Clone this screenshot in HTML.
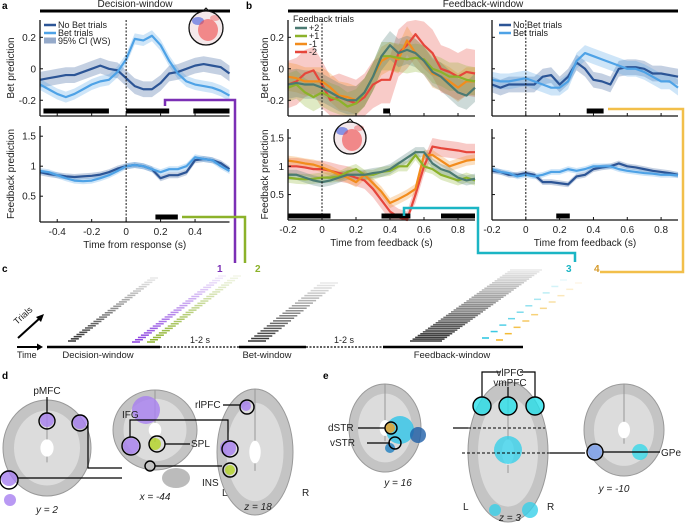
<!DOCTYPE html>
<html><head><meta charset="utf-8"><style>
body{margin:0;background:#fff;}
svg{display:block;font-family:"Liberation Sans",Arial,sans-serif;}
</style></head><body>
<svg id="fig" width="685" height="524" viewBox="0 0 685 524" xmlns="http://www.w3.org/2000/svg">
<g id="root"></g>
</svg>
<script>
// ---- data ----
const tA = [-0.5,-0.45,-0.4,-0.35,-0.3,-0.25,-0.2,-0.15,-0.1,-0.05,0,0.05,0.1,0.15,0.2,0.25,0.3,0.35,0.4,0.45,0.5,0.55,0.6];
const tB = [-0.2,-0.15,-0.1,-0.05,0,0.05,0.1,0.15,0.2,0.25,0.3,0.35,0.4,0.45,0.5,0.55,0.6,0.65,0.7,0.75,0.8,0.85,0.9];
const aTopNoBet = [-0.07,-0.06,-0.05,-0.04,-0.04,-0.02,0.0,0.02,0.0,-0.01,-0.06,-0.11,-0.13,-0.13,-0.09,-0.03,-0.02,0.0,0.02,0.03,0.02,0.01,-0.03];
const aTopBet = [-0.1,-0.13,-0.16,-0.18,-0.16,-0.13,-0.1,-0.08,-0.07,-0.02,0.06,0.19,0.18,0.21,0.15,0.05,-0.03,-0.08,-0.1,-0.11,-0.12,-0.14,-0.17];
const aBotNoBet = [0.9,0.87,0.85,0.83,0.82,0.83,0.84,0.86,0.9,0.96,1.0,1.02,1.0,0.95,0.8,0.85,0.85,0.9,1.1,1.12,1.1,1.05,0.95];
const aBotBet = [0.92,0.9,0.85,0.8,0.76,0.75,0.76,0.8,0.85,0.92,1.0,1.02,1.0,0.95,0.9,0.95,0.95,1.0,1.15,1.12,1.1,1.0,0.92];
const bTopP2 = [-0.1,-0.09,-0.1,-0.1,-0.12,-0.15,-0.18,-0.2,-0.2,-0.15,-0.05,0.08,0.15,0.1,0.12,0.1,0.05,-0.02,-0.05,-0.1,-0.15,-0.17,-0.12];
const bTopP1 = [-0.12,-0.1,-0.15,-0.18,-0.15,-0.18,-0.2,-0.24,-0.22,-0.15,-0.05,0.08,0.08,0.07,0.06,0.07,0.06,0.0,-0.02,-0.05,-0.05,-0.07,-0.08];
const bTopM1 = [-0.05,-0.06,-0.08,-0.08,-0.08,-0.12,-0.17,-0.18,-0.2,-0.15,-0.05,0.05,0.08,0.06,0.18,0.1,0.05,-0.03,-0.05,-0.08,-0.12,-0.08,-0.08];
const bTopM2 = [-0.1,-0.08,-0.03,-0.01,-0.1,-0.2,-0.18,-0.2,-0.22,-0.18,-0.1,-0.07,-0.07,0.1,0.15,0.22,0.15,0.1,0.0,-0.02,-0.05,-0.02,-0.03];
const bBotP2 = [0.85,0.85,0.8,0.75,0.72,0.75,0.8,0.85,0.85,0.85,0.88,0.9,0.95,1.05,1.15,1.25,1.25,1.05,0.95,0.9,0.8,0.75,0.78];
const bBotP1 = [0.8,0.78,0.77,0.78,0.8,0.8,0.82,0.9,0.95,0.85,0.85,0.9,0.92,1.0,1.0,1.2,1.0,0.95,0.85,0.8,0.75,0.8,0.75];
const bBotM1 = [1.1,1.08,1.05,1.03,0.98,0.92,0.85,0.8,0.72,0.85,0.7,0.55,0.35,0.42,0.5,0.6,1.2,1.2,1.1,1.0,1.05,1.1,1.12];
const bBotM2 = [1.0,1.0,0.98,0.95,0.95,0.92,0.88,0.85,0.8,0.75,0.6,0.4,0.2,0.1,0.05,0.5,1.0,1.35,1.32,1.3,1.28,1.25,1.25];
const cTopNoBet = [-0.1,-0.12,-0.1,-0.1,-0.1,-0.1,-0.05,-0.04,-0.1,-0.05,0.04,0.0,-0.07,-0.08,-0.1,0.0,0.01,0.01,0.0,-0.03,-0.03,-0.04,-0.05];
const cTopBet = [-0.07,-0.08,-0.08,-0.07,-0.06,-0.08,-0.1,-0.12,-0.12,-0.08,0.05,0.1,0.08,0.06,0.04,0.02,0.0,0.0,-0.02,-0.05,-0.08,-0.08,-0.12];
const cBotNoBet = [0.92,0.9,0.85,0.85,0.88,0.85,0.72,0.72,0.7,0.68,0.82,0.85,0.95,0.98,1.0,1.05,1.0,0.98,0.95,0.92,0.9,0.88,0.85];
const cBotBet = [0.95,0.9,0.88,0.82,0.85,0.82,0.85,0.9,0.9,0.95,0.92,0.95,1.0,1.0,1.0,0.95,0.92,0.9,0.88,0.87,0.85,0.85,0.84];
const ciHalf = [0.035,0.05,0.09,0.15];
const sigATop = [[-0.48,-0.1],[0,0.25],[0.39,0.6]];
const sigABot = [[0.17,0.3]];
const sigBTop = [[0.36,0.4]];
const sigBBot = [[-0.2,0.05],[0.35,0.52],[0.7,0.9]];
const sigCTop = [[0.36,0.46]];
const sigCBot = [[0.18,0.26]];
const xTicksA = [-0.4,-0.2,0,0.2,0.4];
const xTicksB = [-0.2,0,0.2,0.4,0.6,0.8];
const yTicksTop = [-0.2,0,0.2];
const yTicksBot = [0.5,1,1.5];

const C = {nobet:'#2c5596',bet:'#4ea2e6',p2:'#4b7a72',p1:'#8cb22a',m1:'#f28c1c',m2:'#e6463b'};
const NS='http://www.w3.org/2000/svg';
const root=document.getElementById('root');
function el(tag,attrs,parent,name,inter){const e=document.createElementNS(NS,tag);for(const k in attrs)e.setAttribute(k,attrs[k]);


(parent||root).appendChild(e);return e;}
function txt(x,y,s,opt,parent,name){const o=Object.assign({x:x,y:y,'font-size':9,fill:'#222'},opt||{});const t=el('text',o,parent,name);t.textContent=s;return t;}

function panel(cfg){
  const g=el('g',{},root,cfg.name);
  const sx=v=>cfg.x0+(v-cfg.t0)/(cfg.t1-cfg.t0)*(cfg.x1-cfg.x0);
  const sy=v=>cfg.ybot-(v-cfg.v0)/(cfg.v1-cfg.v0)*(cfg.ybot-cfg.ytop);
  cfg.series.forEach(s=>{
    const h=s.ci;
    let up=s.vals.map((v,i)=>sx(s.t[i])+','+sy(Math.min(v+h,cfg.v1))).join(' ');
    let dn=s.vals.map((v,i)=>sx(s.t[i])+','+sy(Math.max(v-h,cfg.v0))).reverse().join(' ');
    el('polygon',{points:up+' '+dn,fill:s.c,opacity:0.28},g,s.name+'-ci');
  });
  cfg.series.forEach(s=>{
    el('polyline',{points:s.vals.map((v,i)=>sx(s.t[i])+','+sy(Math.max(v,cfg.v0))).join(' '),fill:'none',stroke:s.c,'stroke-width':2.2,'stroke-linejoin':'round'},g,s.name+'-line');
  });
  el('line',{x1:sx(0),x2:sx(0),y1:cfg.ytop,y2:cfg.ybot,stroke:'#111','stroke-width':1,'stroke-dasharray':'2,1.5'},g,'zero-line');
  cfg.sig.forEach(b=>{el('rect',{x:sx(b[0]),y:cfg.sigY-2.5,width:sx(b[1])-sx(b[0]),height:5,fill:'#000'},g,'significance-bar');});
  el('line',{x1:cfg.x0,x2:cfg.x0,y1:cfg.ytop,y2:cfg.ybot,stroke:'#111','stroke-width':1.3},g,'y-axis');
  el('line',{x1:cfg.x0,x2:cfg.x1,y1:cfg.ybot,y2:cfg.ybot,stroke:'#111','stroke-width':1.3},g,'x-axis');
  cfg.yt.forEach(v=>{el('line',{x1:cfg.x0,x2:cfg.x0+3,y1:sy(v),y2:sy(v),stroke:'#111'},g,'y-tick');
    if(cfg.ylab) txt(cfg.x0-4,sy(v)+3.5,String(v),{'text-anchor':'end','font-size':10},g,'y-tick-label');});
  cfg.xt.forEach(v=>{el('line',{x1:sx(v),x2:sx(v),y1:cfg.ybot,y2:cfg.ybot-3,stroke:'#111'},g,'x-tick');
    if(cfg.xlab) txt(sx(v),cfg.ybot+13,String(v),{'text-anchor':'middle','font-size':10},g,'x-tick-label');});
  if(cfg.ytitle){txt(0,0,cfg.ytitle,{'text-anchor':'middle','font-size':10,transform:`translate(${cfg.ytx},${(cfg.ytop+cfg.ybot)/2}) rotate(-90)`},g,'y-axis-title');}
  if(cfg.xtitle) txt((cfg.x0+cfg.x1)/2,cfg.ybot+26,cfg.xtitle,{'text-anchor':'middle','font-size':10},g,'x-axis-title');
}
const S=(name,t,vals,c,ci)=>({name,t,vals,c,ci});
panel({name:'panel-a-bet',x0:40,x1:229.5,t0:-0.5,t1:0.6,ytop:20,ybot:116,v0:-0.3,v1:0.31,yt:yTicksTop,xt:xTicksA,ylab:true,xlab:false,sigY:111,sig:sigATop,ytitle:'Bet prediction',ytx:14,
 series:[S('no-bet',tA,aTopNoBet,C.nobet,ciHalf[1]),S('bet',tA,aTopBet,C.bet,ciHalf[0])]});
panel({name:'panel-a-feedback',x0:40,x1:229.5,t0:-0.5,t1:0.6,ytop:126,ybot:222,v0:0.07,v1:1.67,yt:yTicksBot,xt:xTicksA,ylab:true,xlab:true,sigY:217,sig:sigABot,ytitle:'Feedback prediction',ytx:14,xtitle:'Time from response (s)',
 series:[S('no-bet',tA,aBotNoBet,C.nobet,ciHalf[1]),S('bet',tA,aBotBet,C.bet,ciHalf[1])]});
panel({name:'panel-b-bet',x0:288,x1:475,t0:-0.2,t1:0.9,ytop:20,ybot:116,v0:-0.3,v1:0.31,yt:yTicksTop,xt:xTicksB,ylab:true,xlab:false,sigY:111,sig:sigBTop,ytitle:'Bet prediction',ytx:268,
 series:[S('minus2',tB,bTopM2,C.m2,ciHalf[3]),S('minus1',tB,bTopM1,C.m1,ciHalf[2]),S('plus1',tB,bTopP1,C.p1,ciHalf[2]),S('plus2',tB,bTopP2,C.p2,ciHalf[2])]});
panel({name:'panel-b-feedback',x0:288,x1:475,t0:-0.2,t1:0.9,ytop:129,ybot:220,v0:0.05,v1:1.66,yt:yTicksBot,xt:xTicksB,ylab:true,xlab:true,sigY:216,sig:sigBBot,ytitle:'Feedback prediction',ytx:268,xtitle:'Time from feedback (s)',
 series:[S('minus2',tB,bBotM2,C.m2,ciHalf[3]),S('minus1',tB,bBotM1,C.m1,ciHalf[2]),S('plus1',tB,bBotP1,C.p1,ciHalf[2]),S('plus2',tB,bBotP2,C.p2,ciHalf[2])]});
panel({name:'panel-b-right-bet',x0:492,x1:678,t0:-0.2,t1:0.9,ytop:20,ybot:116,v0:-0.3,v1:0.31,yt:yTicksTop,xt:xTicksB,ylab:false,xlab:false,sigY:111,sig:sigCTop,
 series:[S('no-bet',tB,cTopNoBet,C.nobet,ciHalf[1]),S('bet',tB,cTopBet,C.bet,ciHalf[1])]});
panel({name:'panel-b-right-feedback',x0:492,x1:678,t0:-0.2,t1:0.9,ytop:129,ybot:220,v0:0.05,v1:1.66,yt:yTicksBot,xt:xTicksB,ylab:false,xlab:true,sigY:216,sig:sigCBot,xtitle:'Time from feedback (s)',
 series:[S('no-bet',tB,cBotNoBet,C.nobet,ciHalf[1]),S('bet',tB,cBotBet,C.bet,ciHalf[1])]});

el('rect',{x:40,y:9.5,width:190,height:3,fill:'#000'},root,'decision-window-bar');
txt(135,7,'Decision-window',{'text-anchor':'middle','font-size':10},root,'decision-window-title');
el('rect',{x:288,y:9.5,width:390,height:3,fill:'#000'},root,'feedback-window-bar');
txt(483,7,'Feedback-window',{'text-anchor':'middle','font-size':10},root,'feedback-window-title');
[['a',2,7],['b',246,7],['c',2,270],['d',2,377],['e',323,377]].forEach(p=>txt(p[1],p[2]+2,p[0],{'font-size':10,'font-weight':'bold',fill:'#000'},root,'panel-label-'+p[0]));

function legend(x,y,items,name,dy){const g=el('g',{},root,name);items.forEach((it,i)=>{
  if(it[2]) el('rect',{x:x,y:y+i*dy-3.5,width:12,height:6,fill:it[1],opacity:0.5},g,'legend-swatch');
  else el('line',{x1:x,x2:x+12,y1:y+i*dy,y2:y+i*dy,stroke:it[1],'stroke-width':2.5},g,'legend-swatch');
  txt(x+14,y+i*dy+3.2,it[0],{'font-size':9},g,'legend-entry');});}
legend(44,25,[['No Bet trials',C.nobet],['Bet trials',C.bet],['95% CI (WS)',C.nobet,true]],'legend-a',8);
txt(293,22,'Feedback trials',{'font-size':9},root,'legend-b-title');
legend(295,28,[['+2',C.p2],['+1',C.p1],['-1',C.m1],['-2',C.m2]],'legend-b',8);
legend(499,25,[['No Bet trials',C.nobet],['Bet trials',C.bet]],'legend-b-right',8);

function scalp(cx,cy,r,name){const g=el('g',{},root,name);
  el('circle',{cx:cx,cy:cy,r:r,fill:'#f4e8ea'},g,'scalp-bg');
  el('ellipse',{cx:cx-8,cy:cy-7,rx:6,ry:4,fill:'#5a6fe0',opacity:0.7},g,'scalp-blue');
  el('ellipse',{cx:cx+2,cy:cy+2,rx:10,ry:11,fill:'#ee4848',opacity:0.6},g,'scalp-red');
  el('ellipse',{cx:cx+9,cy:cy-10,rx:5,ry:3,fill:'#ee6666',opacity:0.5},g,'scalp-red2');
  el('circle',{cx:cx,cy:cy,r:r,fill:'none',stroke:'#111','stroke-width':1.3},g,'scalp-outline');
  el('path',{d:`M${cx-3},${cy-r} L${cx},${cy-r-3} L${cx+3},${cy-r}`,fill:'none',stroke:'#111'},g,'scalp-nose');}
scalp(206,28,17,'scalp-map-a');scalp(350,138,16,'scalp-map-b');

function conn(pts,c,name){el('polyline',{points:pts,fill:'none',stroke:c,'stroke-width':2.5},root,name);}
conn('165,106 165,100 235,100 235,263','#7b2fb5','connector-1');
conn('182,217 245,217 245,263','#8cb22a','connector-2');
conn('404,216 404,208 478,208 478,253 575,253 575,262','#1bb5c4','connector-3');
conn('608,109 683,109 683,272 600,272','#f2bf4a','connector-4');
[['1',217,'#7b2fb5'],['2',255,'#8cb22a'],['3',566,'#1bb5c4'],['4',594,'#d59a2a']].forEach(n=>txt(n[1],272,n[0],{'font-size':10,'font-weight':'bold',fill:n[2]},root,'marker-'+n[0]));

const gc=el('g',{},root,'timeline');
el('line',{x1:47,x2:160,y1:347,y2:347,stroke:'#000','stroke-width':2.5},gc,'decision-segment');
el('line',{x1:160,x2:239,y1:347,y2:347,stroke:'#000','stroke-width':1.2,'stroke-dasharray':'2,1.5'},gc,'gap-1');
el('line',{x1:239,x2:306,y1:347,y2:347,stroke:'#000','stroke-width':2.5},gc,'bet-segment');
el('line',{x1:306,x2:383,y1:347,y2:347,stroke:'#000','stroke-width':1.2,'stroke-dasharray':'2,1.5'},gc,'gap-2');
el('line',{x1:383,x2:523,y1:347,y2:347,stroke:'#000','stroke-width':2.5},gc,'feedback-segment');
txt(200,343,'1-2 s',{'text-anchor':'middle','font-size':9},gc,'gap-label');
txt(344,343,'1-2 s',{'text-anchor':'middle','font-size':9},gc,'gap-label');
txt(98,358,'Decision-window',{'text-anchor':'middle','font-size':9.5},gc,'decision-label');
txt(267,358,'Bet-window',{'text-anchor':'middle','font-size':9.5},gc,'bet-label');
txt(452,358,'Feedback-window',{'text-anchor':'middle','font-size':9.5},gc,'feedback-label');
txt(17,358,'Time',{'font-size':9},gc,'time-label');
el('line',{x1:17,x2:38,y1:347,y2:347,stroke:'#000','stroke-width':2},gc,'time-arrow');
el('polygon',{points:'43,347 37,343.5 37,350.5',fill:'#000'},gc,'time-arrowhead');
el('line',{x1:18,x2:40,y1:338,y2:318,stroke:'#000','stroke-width':2},gc,'trials-arrow');
el('polygon',{points:'44,314 36,317 41,322',fill:'#000'},gc,'trials-arrowhead');
txt(0,0,'Trials',{'font-size':9,transform:'translate(17,325) rotate(-42)'},gc,'trials-label');
function stack(x0,y0,x1,y1,n,w,col,name){const g=el('g',{},gc,name);for(let i=0;i<n;i++){const f=i/(n-1);
  el('line',{x1:x0+(x1-x0)*f,x2:x0+(x1-x0)*f+w,y1:y0+(y1-y0)*f,y2:y0+(y1-y0)*f,stroke:col,'stroke-width':1.5,opacity:1-0.9*f},g,'trial-mark');}}
stack(68,341,150,278,30,8,'#333','decision-trials');
stack(132,342,218,276,30,8,'#8a3fe0','decision-trials-1');
stack(147,342,233,276,30,8,'#8cb22a','decision-trials-2');
stack(248,341,320,283,24,18,'#333','bet-trials');
stack(410,341,510,270,40,32,'#333','feedback-trials');
stack(482,338,560,280,10,7,'#27c4e0','feedback-trials-3');
stack(496,340,575,283,10,7,'#f2b320','feedback-trials-4');

function brain(cx,cy,rx,ry,name){const g=el('g',{},root,name);
  el('ellipse',{cx:cx,cy:cy,rx:rx,ry:ry,fill:'#c4c4c4',stroke:'#999'},g,'brain-outline');
  el('ellipse',{cx:cx,cy:cy,rx:rx*0.75,ry:ry*0.78,fill:'#dcdcdc'},g,'brain-inner');
  el('line',{x1:cx,x2:cx,y1:cy-ry,y2:cy+ry*0.3,stroke:'#999'},g,'brain-midline');
  el('ellipse',{cx:cx,cy:cy,rx:rx*0.15,ry:ry*0.18,fill:'#fff'},g,'brain-ventricle');return g;}
function blob(x,y,r,c){el('circle',{cx:x,cy:y,r:r,fill:c,opacity:0.8},root,'activation');}
function ring(x,y,r){el('circle',{cx:x,cy:y,r:r,fill:'none',stroke:'#000','stroke-width':1.4},root,'roi-circle');}
brain(47,448,44,48,'brain-coronal-y2');
brain(155,430,42,40,'brain-sagittal-x-44');
el('ellipse',{cx:176,cy:478,rx:14,ry:10,fill:'#bbb'},root,'cerebellum');
brain(255,452,38,63,'brain-axial-z18');
brain(385,428,36,44,'brain-coronal-y16');
brain(508,452,40,70,'brain-axial-z3');
brain(624,430,40,46,'brain-coronal-y-10');
blob(47,420,7,'#a77ff0');blob(80,422,7,'#a77ff0');blob(9,478,8,'#a77ff0');blob(10,500,6,'#a77ff0');blob(146,410,14,'#a77ff0');blob(131,446,8,'#a77ff0');blob(155,444,6,'#b4d424');blob(228,448,8,'#a77ff0');blob(230,470,5,'#b4d424');blob(246,406,5,'#a77ff0');
ring(47,421,8);ring(80,423,8);ring(9,480,9);ring(131,446,9);ring(150,466,5);ring(157,444,8);ring(247,407,7);ring(230,449,8);ring(230,470,7);
el('polyline',{points:'47,413 47,397',fill:'none',stroke:'#000','stroke-width':1.2},root,'pmfc-leader');
txt(47,394,'pMFC',{'text-anchor':'middle','font-size':10},root,'label-pmfc');
el('polyline',{points:'18,478 122,478',fill:'none',stroke:'#000','stroke-width':1.2},root,'leader');
el('polyline',{points:'88,423 88,468 122,468',fill:'none',stroke:'#000','stroke-width':1.2},root,'leader');
el('polyline',{points:'130,437 130,420 228,420 228,440',fill:'none',stroke:'#000','stroke-width':1.2},root,'ifg-leader');
txt(122,418,'IFG',{'font-size':10},root,'label-ifg');
el('polyline',{points:'165,444 190,444',fill:'none',stroke:'#000','stroke-width':1.2},root,'spl-leader');
txt(191,447,'SPL',{'font-size':10},root,'label-spl');
el('polyline',{points:'155,466 222,466',fill:'none',stroke:'#000','stroke-width':1.2},root,'ins-leader');
txt(202,486,'INS',{'font-size':10},root,'label-ins');
el('polyline',{points:'223,405 240,405',fill:'none',stroke:'#000','stroke-width':1.2},root,'rlpfc-leader');
txt(195,408,'rlPFC',{'font-size':10},root,'label-rlpfc');
txt(47,513,'y = 2',{'text-anchor':'middle','font-size':10,'font-style':'italic'},root,'slice-label');
txt(155,500,'x = -44',{'text-anchor':'middle','font-size':10,'font-style':'italic'},root,'slice-label');
txt(258,510,'z = 18',{'text-anchor':'middle','font-size':10,'font-style':'italic'},root,'slice-label');
txt(222,496,'L',{'font-size':10},root,'label-L');txt(302,496,'R',{'font-size':10},root,'label-R');
blob(400,430,14,'#2fc4e8');blob(418,435,8,'#1f5fa8');blob(390,448,5,'#1f7fc0');blob(390,428,5,'#f2a020');
ring(391,428,6);ring(395,443,6);
blob(482,406,9,'#28e0ea');blob(508,406,9,'#28e0ea');blob(535,406,9,'#28e0ea');blob(508,450,14,'#38d0e8');blob(530,510,8,'#38d0e8');blob(495,510,6,'#38d0e8');
ring(482,406,9);ring(508,406,9);ring(535,406,9);
blob(640,452,8,'#38d8e8');blob(595,452,7,'#7aa0f0');ring(595,452,8);
el('polyline',{points:'482,397 482,372 500,372',fill:'none',stroke:'#000','stroke-width':1.2},root,'leader');
el('polyline',{points:'535,397 535,372 520,372',fill:'none',stroke:'#000','stroke-width':1.2},root,'leader');
el('polyline',{points:'508,397 508,387',fill:'none',stroke:'#000','stroke-width':1.2},root,'leader');
txt(510,376,'vlPFC',{'text-anchor':'middle','font-size':10},root,'label-vlpfc');
txt(510,386,'vmPFC',{'text-anchor':'middle','font-size':10},root,'label-vmpfc');
el('polyline',{points:'358,428 385,428',fill:'none',stroke:'#000','stroke-width':1.2},root,'leader');
el('polyline',{points:'367,443 390,443',fill:'none',stroke:'#000','stroke-width':1.2},root,'leader');
txt(328,431,'dSTR',{'font-size':10},root,'label-dstr');
txt(330,446,'vSTR',{'font-size':10},root,'label-vstr');
el('line',{x1:453,x2:468,y1:428,y2:428,stroke:'#000','stroke-width':1.2},root,'leader');
el('line',{x1:468,x2:545,y1:428,y2:428,stroke:'#000','stroke-dasharray':'3,2'},root,'slice-line');
el('line',{x1:462,x2:550,y1:453,y2:453,stroke:'#000','stroke-dasharray':'3,2'},root,'slice-line');
el('line',{x1:550,x2:585,y1:453,y2:453,stroke:'#000','stroke-width':1.2},root,'leader');
el('line',{x1:603,x2:660,y1:452,y2:452,stroke:'#000','stroke-width':1.2},root,'leader');
txt(661,456,'GPe',{'font-size':10},root,'label-gpe');
txt(398,486,'y = 16',{'text-anchor':'middle','font-size':10,'font-style':'italic'},root,'slice-label');
txt(510,521,'z = 3',{'text-anchor':'middle','font-size':10,'font-style':'italic'},root,'slice-label');
txt(614,492,'y = -10',{'text-anchor':'middle','font-size':10,'font-style':'italic'},root,'slice-label');
txt(463,510,'L',{'font-size':10},root,'label-L');txt(547,510,'R',{'font-size':10},root,'label-R');
</script>
</body></html>
